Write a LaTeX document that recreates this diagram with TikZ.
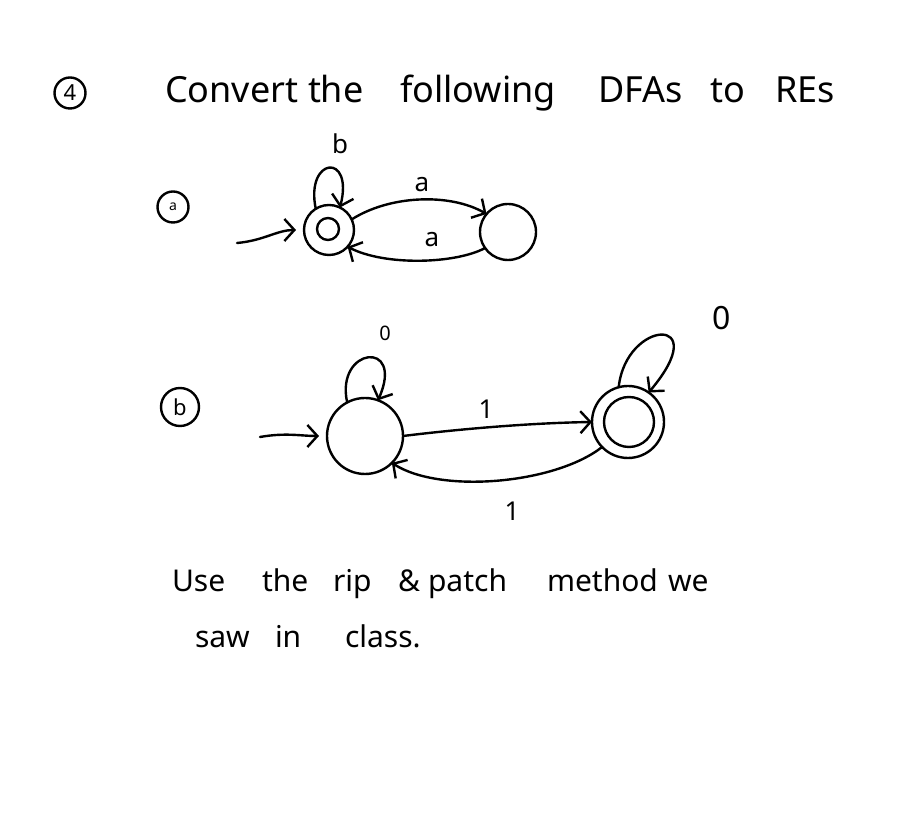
\documentclass[tikz,border=0pt]{standalone}
\usepackage{fontspec}
\setmainfont{Noto Sans}
\usetikzlibrary{arrows.meta}
\begin{document}
\begin{tikzpicture}[x=1pt,y=1pt,line width=2.4pt,line cap=round,line join=round,
  every node/.style={inner sep=0pt,outer sep=0pt},
  word/.style={anchor=base west,font=\fontsize{36}{40}\selectfont},
  smallword/.style={anchor=base west,font=\fontsize{30}{34}\selectfont},
  lab/.style={font=\fontsize{26}{30}\selectfont},
  tag/.style={draw,circle,minimum size=#1},
  state/.style={draw,circle,minimum size=#1},
  tr/.style={-{Straight Barb[length=10pt,width=22pt]}},
]
\useasboundingbox[fill=white] (0,0) rectangle (902,819);

% ---- title ----
\node[tag=31pt,font=\fontsize{22}{24}\selectfont] (n4) at (70,726) {4};
\node[word] (w1) at (165,716) {Convert};
\node[word] (w2) at (308,716) {the};
\node[word] (w3) at (400,716) {following};
\node[word] (w4) at (598,716) {DFAs};
\node[word] (w5) at (710,716) {to};
\node[word] (w6) at (775,716) {REs};

% ---- part a ----
\node[tag=31pt,font=\fontsize{14}{16}\selectfont] (ta) at (173,612) {a};
\node[state=50pt] (q0) at (329,589) {};
\node[state=22pt] (q0in) at (328,590) {};
\node[state=56pt] (q1) at (508,587) {};
\coordinate (ia) at (237,576);
\draw[tr,shorten >=8pt] (ia) to[out=5,in=180] (q0.west);
\draw[tr] (q0.25) .. controls (390,624) and (450,626) .. (q1.140);
\draw[tr] (q1.215) .. controls (455,555) and (385,553) .. (q0.318);
\draw[tr] (q0.122) .. controls (305,662) and (354,667) .. (q0.64);
\node[lab] (la1) at (422,634) {a};
\node[lab] (la2) at (432,579) {a};
\node[lab] (lb) at (340,675) {b};

% ---- part b ----
\node[tag=38pt,font=\fontsize{22}{24}\selectfont] (tb) at (180,412) {b};
\node[state=76pt] (p0) at (365,383) {};
\node[state=72pt] (p1) at (628,397) {};
\node[state=50pt] (p1in) at (629,397) {};
\coordinate (ib) at (260,382);
\draw[tr,shorten >=8pt] (ib) to[out=10,in=180] (p0.west);
\draw[tr] (p0.0) .. controls (460,390) and (530,396) .. (p1.180);
\draw[tr] (p1.224) .. controls (555,335) and (440,325) .. (p0.315);
\draw[tr] (p0.118) .. controls (335,472) and (405,480) .. (p0.70);
\draw[tr] (p1.105) .. controls (626,500) and (715,505) .. (p1.55);
\node[lab] (l1a) at (486,410) {1};
\node[lab] (l1b) at (512,308) {1};
\node[lab,font=\fontsize{20}{22}\selectfont] (l0a) at (385,486) {0};
\node[lab,font=\fontsize{32}{34}\selectfont] (l0b) at (722,501) {0};

% ---- note ----
\node[smallword] (u1) at (172,227) {Use};
\node[smallword] (u2) at (262,227) {the};
\node[smallword] (u3) at (333,227) {rip};
\node[smallword] (u4) at (398,227) {\&};
\node[smallword] (u5) at (428,227) {patch};
\node[smallword] (u6) at (547,227) {method};
\node[smallword] (u7) at (668,227) {we};
\node[smallword] (s1) at (195,171) {saw};
\node[smallword] (s2) at (275,171) {in};
\node[smallword] (s3) at (345,171) {class.};
\end{tikzpicture}
\end{document}
